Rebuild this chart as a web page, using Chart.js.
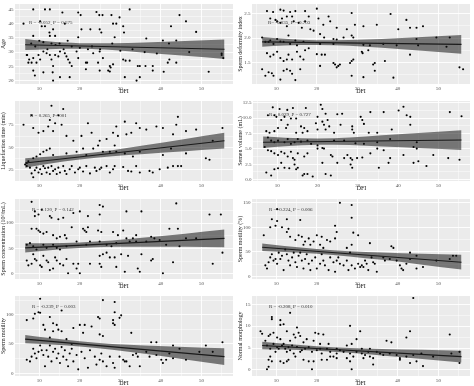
<!DOCTYPE html>
<html><head><meta charset="utf-8">
<script src="https://cdn.jsdelivr.net/npm/chart.js@4"></script>
<style>
html,body{margin:0;padding:0;background:#fff;width:474px;height:386px;overflow:hidden}
canvas{position:absolute;display:block}
</style></head><body>
<canvas id="c0" width="237" height="96" style="left:0;top:0"></canvas>
<canvas id="c1" width="237" height="96" style="left:237px;top:0"></canvas>
<canvas id="c2" width="237" height="96" style="left:0;top:97px"></canvas>
<canvas id="c3" width="237" height="96" style="left:237px;top:97px"></canvas>
<canvas id="c4" width="237" height="96" style="left:0;top:195px"></canvas>
<canvas id="c5" width="237" height="96" style="left:237px;top:195px"></canvas>
<canvas id="c6" width="237" height="96" style="left:0;top:292px"></canvas>
<canvas id="c7" width="237" height="96" style="left:237px;top:292px"></canvas>
<script>
// ---------- shared x axis ----------
const xMajor = [10,20,30,40,50];
const xMinor = [5,15,25,35,45,55];
const lineX = [6.5,55.7];
const bandX = [6.5,12,20,28,36,46,55.7];

// ---------- Panel 1: Age ----------
const ageTicks = [20,25,30,35,40,45];
const ageLine = [32.6,31.0];
const ageUpper = [34.6,33.8,33.15,33.1,33.4,33.9,34.4];
const ageLower = [30.7,31.0,31.15,30.7,29.8,28.7,27.6];
const agePoints = [[8.5,45],[11.4,45],[12.6,45],[15.7,43.9],[19.6,43.9],[20.2,43],[24.1,44.1],[24.8,43],[25.6,43],[27.8,43],[29.8,42.2],[32.3,45],[44.6,43],
[6.1,40],[10.2,40.8],[10.6,39.1],[11.4,39.1],[16.3,40],[20.4,38],[22.6,38],[24.9,38],[28.2,40],[29,40],[30.7,39.1],[42.5,39.1],[46.2,40.8],[48.7,37.1],
[8.5,35.7],[12.5,36.9],[12.6,35.7],[13.4,38],[13.9,35.7],[19.6,35.2],[25.3,36.9],[28.6,35.2],[30.9,36.9],[36.4,34.8],[40.5,34.1],[43.8,34.1],
[8,33],[9,32],[10,34],[11,33.5],[12,31],[13,33],[14,32.5],[15,33],[16,31],[17,34],[18,32],[20,31.5],[22,31],[23,32],[25,31],[28,33],[30,30.5],[33,31],[36,30],[39,29.5],[42,33],[47,30],[55,29.5],[7,29],
[6.9,29],[7.3,26.3],[7.5,27.4],[8.1,26.3],[8.5,27.9],[9.3,26.3],[9.8,29],[10.2,27.4],[11,30.2],[11.8,29.6],[12.6,29],[13,27.4],[13.4,25.1],[13.9,29],[14.7,28.5],[15.1,30.2],[16.3,29.6],[16.7,28.5],[17.1,27.4],[17.5,26.3],[18,25.1],[19.2,30.2],[19.6,27.9],[21.5,26.3],[21.8,26.3],[23.3,29.6],[24.5,26.3],[24.9,30.2],[25.7,27.9],[27.4,25.1],[27.6,24.6],[28.2,25.7],[30.7,27.4],[31.3,27],[32.3,27],[34.3,25.1],[34.8,25.1],[36.2,25.1],[38,25.1],[41.7,26.3],[42.1,27.4],[43.8,26.3],
[8.5,23.5],[8.9,21.8],[11,22.9],[13.3,22.9],[13.4,20],[15.1,21.2],[17.5,21.2],[21.5,24],[24.9,23.5],[27,23.5],[27.4,23.2],[31.1,21.2],[34,20],[34.8,21.2],[38,23.5],[40.7,23.1],[51.8,23.1],[55.4,27.9],[55,29]];

// ---------- Panel 2: Sperm deformity index ----------
const sdiTicks = [1.5,2.0,2.5];
const sdiLine = [1.92,1.87];
const sdiUpper = [2.02,1.985,1.955,1.96,1.98,2.02,2.06];
const sdiLower = [1.82,1.845,1.855,1.84,1.80,1.74,1.68];
const sdiPoints = [[7.7,2.55],[9.2,2.53],[11,2.58],[11.8,2.56],[12.6,2.44],[13.4,2.53],[14.7,2.55],[17.1,2.55],[18,2.44],[20,2.6],[20.4,2.40],[21.6,2.27],[22.9,2.44],[23.3,2.34],[24.9,2.21],[27.4,2.18],[28.6,2.51],[29.4,2.27],[31.5,2.24],[34.8,2.27],[38.2,2.49],[40.1,2.18],[42.1,2.37],[43,2.21],[44.6,2.21],[46.2,2.24],
[8.5,2.40],[9.8,2.37],[10.2,2.34],[11,2.31],[11.4,2.40],[12.6,2.24],[13,2.05],[13.9,2.44],[14.3,2.34],[15.5,2.31],[16.3,2.21],[17.1,2.34],[18.4,2.18],[19.2,2.15],[20.8,2.08],[21.8,2.01],[24.1,1.98],[26.6,2.01],[28.6,2.05],[29,2.01],
[6.5,2.01],[7.3,1.92],[8.1,1.92],[8.5,1.95],[9.3,1.88],[10.2,1.98],[11,1.93],[11.8,1.92],[13.4,1.88],[14.7,1.95],[15.1,1.85],[16.7,1.92],[18,1.79],[20.8,1.88],[24.1,1.88],[24.9,1.97],[31.5,1.86],[33.1,1.85],[36.4,1.88],[39.7,1.85],[44.6,1.98],[45,1.85],[49.5,2.01],[52.8,2.01],[52,1.82],
[7.7,1.69],[8.5,1.62],[9.3,1.66],[10.2,1.72],[11,1.59],[11.8,1.53],[12.6,1.56],[13,1.66],[13.9,1.56],[15.1,1.72],[15.9,1.62],[16.7,1.56],[17.1,1.75],[20,1.67],[21.2,1.66],[22,1.66],[24.1,1.49],[24.5,1.46],[24.9,1.40],[25.3,1.43],[25.7,1.46],[28.2,1.49],[28.6,1.53],[29,1.56],[31.1,1.72],[31.3,1.69],[32.7,1.75],[33.9,1.46],[34.3,1.49],[34.3,1.33],[36.8,1.53],[43,1.66],
[6.5,1.36],[7.3,1.23],[8.1,1.30],[8.9,1.28],[9.3,1.23],[11,1.15],[11.8,1.33],[12.6,1.36],[13.4,1.33],[13.9,1.27],[14.7,1.14],[15.9,1.36],[20.8,1.43],[28.6,1.23],[31.5,1.20],[38.9,1.19],[55.2,1.40],[56.1,1.36]];

// ---------- Panel 3: Liquefaction time ----------
const liqTicks = [25,50,75];
const liqLine = [32.7,57.4];
const liqUpper = [38.0,39.5,42.6,46.9,52.3,59.3,66.2];
const liqLower = [27.4,31.5,36.4,40.1,42.7,45.7,48.6];
const liqPoints = [[13,96.1],[15.9,92.6],[8.1,85.6],[14.7,85.6],[12.6,80.3],[13.9,76.8],[15.5,75],[6.1,75],[8.5,71.5],[9.8,66.2],[11,68],[12.2,73.2],[13.4,68],[16.7,62.7],[18.4,57.4],[20.4,62.7],[22,76.8],[22.9,66.2],[24.9,57.4],[26.6,59.2],[28.2,66.2],[29,73.2],[31.1,78.5],[31.5,64.4],[32.7,66.2],[33.9,76.8],[34.8,71.5],[36.4,69.7],[38.9,73.2],[40.5,71.5],[43,64.4],[43.8,75],[44.2,83.8],[46.2,68],[48.7,69.7],[52.8,57.4],[55.2,71.5],[29.4,62.7],[28.6,52.1],
[6.9,32.7],[7.3,34.5],[8.5,38],[9.3,39.8],[10.2,42.3],[11,45.1],[11.8,46.8],[12.6,48.6],[13.4,41.5],[16.7,43.3],[19.2,45.1],[20.8,48.6],[21.6,41.5],[23.3,48.6],[24.5,52.1],[25.7,45.1],[27.4,45.1],[29,45.1],[31.1,43.3],[33.1,39.8],[34.8,45.1],[40.5,41.5],[42.5,48.6],[46.2,43.3],[51.1,38],[52,36.3],
[6.5,31],[6.9,29.2],[7.7,27.5],[8.1,21.1],[8.5,16.9],[8.9,24.6],[9.3,27.5],[9.8,22.2],[10.2,25.7],[10.6,20.4],[11,29.2],[11.4,26.8],[11.8,22.2],[12.2,27.5],[12.6,20.4],[13,29.2],[13.4,23.9],[13.9,25.7],[14.3,20.4],[14.7,27.5],[15.1,22.2],[15.9,29.2],[16.3,23.9],[16.7,20.4],[17.5,25.7],[18,29.2],[18.8,22.2],[19.6,25.7],[20,27.5],[20.8,23.2],[21.6,29.2],[22.5,21.1],[23.7,27.5],[24.1,23.9],[24.9,25.7],[25.3,27.5],[26.6,29.2],[27.4,22.2],[28.2,25.7],[28.6,29.2],[30.7,28.2],[31.9,23.9],[32.7,23.2],[33.9,29.2],[34.8,22.2],[37.2,23.9],[38,22.2],[39.7,25.7],[41.7,27.5],[43,29.2],[44.2,29.2],[45,29.2]];

// ---------- Panel 4: Semen volume ----------
const volTicks = [0,2.5,5,7.5,10,12.5];
const volLine = [6.07,6.43];
const volUpper = [7.0,6.81,6.67,6.83,7.19,7.61,8.03];
const volLower = [5.14,5.41,5.67,5.63,5.39,5.11,4.83];
const volPoints = [[8.9,11.73],[10.6,11.47],[12.5,11.32],[13.9,11.63],[17.1,11.63],[20.8,12.14],[21.2,11.47],[22,10.7],[24.9,10.6],[26.1,10.7],[30.7,10.19],[33.1,10.96],[40.1,11.21],[41.3,11.83],[42.1,10.44],[43,10.19],[52.8,10.96],[55.7,10.29],
[7.7,10.44],[9.3,10.44],[9.8,10.19],[11.8,10.19],[13.4,9.93],[11,9.67],[12.6,8.9],[14.7,9.93],[15.9,8.64],[16.7,8.38],[20,10.19],[19.6,9.16],[21.2,9.41],[21.6,8.9],[22.5,9.67],[22.9,8.64],[25.7,8.9],[28.6,8.64],[31.1,9.67],[31.5,9.05],[36.4,10.96],[38.4,8.13],[43,8.9],[32.7,7.61],[34.8,7.61],
[7.3,7.87],[8.1,7.61],[9.3,7.87],[10.2,8.38],[12.2,8.38],[14.7,7.61],[16.3,7.61],[17.5,7.87],[20,8.13],[22,8.13],[24.1,7.61],[28.6,8.13],[29,7.61],
[7.7,6.84],[8.5,6.33],[9.3,6.07],[10.2,6.33],[11.8,6.07],[12.6,6.58],[13.4,5.81],[14.3,6.07],[15.1,6.58],[15.9,6.17],[17.5,6.33],[18.4,5.81],[20,5.56],[21.6,5.04],[24.1,6.33],[26.6,6.33],[29.4,5.92],[31.5,5.81],[34.8,6.07],[38,6.58],[43.8,5.3],[44.6,6.07],
[6.9,5.3],[7.7,4.78],[8.5,4.63],[9.3,4.27],[10.2,4.01],[11,4.53],[11.8,4.27],[12.6,3.76],[13.4,4.53],[13.9,3.5],[14.3,3.24],[15.1,4.27],[16.7,3.76],[17.5,4.27],[20,5.04],[21.2,5.14],[23.3,4.01],[23.7,3.76],[26.6,3.5],[27.4,4.01],[28.2,3.5],[28.6,3.24],[29.8,3.5],[31.1,3.6],[33.1,4.27],[34.8,5.04],[36.4,4.78],[38,3.5],[41.3,4.01],[44.6,5.04],[48.7,4.01],[52.4,3.5],[55.2,3.24],
[7.3,1.18],[8.5,0.67],[9.3,1.7],[10.2,1.85],[11,2.73],[11.8,1.95],[13,1.85],[14.3,2.47],[14.7,1.7],[15.1,1.95],[16.3,0.67],[16.7,0.93],[17.5,0.93],[18.8,0.51],[21.2,2.73],[22,0.93],[23.3,0.67],[24.9,2.73],[28.2,2.47],[28.6,1.95],[35.2,1.95],[37.6,2.73],[43.8,2.73],[45,2.98],[47,2.21]];

// ---------- Panel 5: Sperm concentration ----------
const conTicks = [0,50,100];
const conLine = [51.3,70.0];
const conUpper = [60.6,60.6,61.9,65.7,71.5,79.3,87.5];
const conLower = [42.0,46.2,50.9,53.3,53.5,53.3,52.5];
const conPoints = [[8.1,141.9],[43.8,138.8],[24.9,135.6],[25.7,132.5],[8.9,123.1],[10.6,126.3],[8.9,113.8],[9.8,116.9],[12.6,113.8],[13,110.6],[14.7,107.5],[15.9,110.6],[18.4,120],[20,123.1],[22,113.8],[24.9,116.9],[31.5,123.1],[35.2,123.1],[52,116.9],[54.8,116.9],
[8.1,88.8],[9.3,88.8],[9.8,85.6],[10.2,82.5],[11,79.4],[11.8,82.5],[13.4,76.3],[14.3,70],[15.1,73.1],[16.3,76.3],[16.7,70],[18,91.9],[20.8,88.8],[21.2,85.6],[21.6,82.5],[22,91.9],[24.5,85.6],[25.3,82.5],[28.2,82.5],[30.7,85.6],[29.4,76.3],[31.5,70],[33.1,70],[33.9,76.3],[38.4,70],[39.7,66.9],[42.1,88.8],[44.2,88.8],[46.2,70],[48.7,70],
[6.9,57.5],[7.7,60.6],[8.5,54.4],[9.3,48.1],[11,57.5],[11.8,51.3],[13.4,57.5],[14.3,51.3],[15.1,48.1],[16.7,54.4],[19.2,63.8],[21.6,57.5],[22.5,63.8],[24.9,63.8],[26.6,57.5],[27.8,54.4],[29,60.6],[32.3,63.8],[33.9,63.8],[36.4,63.8],[37.6,73.1],[41.3,57.5],[44.6,54.4],
[6.9,26.3],[7.3,16.9],[8.1,20],[8.5,38.8],[8.9,29.4],[9.3,26.3],[10.2,16.9],[10.6,13.8],[11,35.6],[11.8,26.3],[12.2,23.1],[12.6,7.5],[13.4,10.6],[13.9,32.5],[14.3,26.3],[15.1,20],[15.9,16.9],[16.7,29.4],[17.1,1.3],[18.4,20],[19.2,10.6],[19.6,20],[20,1.3],[22.5,20],[24.9,20],[25.3,13.8],[24.9,35.6],[25.7,38.8],[26.6,41.9],[27.4,32.5],[28.6,32.5],[29,13.8],[30.2,38.8],[31.1,4.4],[31.9,35.6],[34.3,10.6],[34.8,4.4],[35.2,38.8],[37.6,26.3],[38,29.4],[40.5,1.3],[43,23.1],[52.8,20],[55.2,41.9]];

// ---------- Panel 6: Sperm motility (%) ----------
const motPTicks = [0,50,100,150];
const motPLine = [59.4,29.0];
const motPUpper = [67.1,62.0,55.8,51.5,48.7,46.0,43.9];
const motPLower = [51.7,50.0,46.2,40.7,33.7,24.0,14.1];
const motPPoints = [[25.7,150],[28.6,145.5],[10.2,137.1],[8.9,116.4],[10.2,113.1],[12.6,116.4],[15.9,115.1],[24.5,103.4],[28.6,119.6],[8.5,100.2],[9.8,103.4],[11.4,100.2],[12.6,90.5],[24.9,90.5],[29,89.2],[30.2,84],[20,84],[21.2,80.8],[22.5,74.3],[18,77.5],[13,96.9],[13.4,80.8],[15.5,84],[16.3,80.8],[17.1,71.1],[14.7,74.3],[16.7,64.6],[18.4,64.6],[19.2,71.1],[20.8,64.6],[21.6,58.1],[23.3,71.1],[24.5,77.5],[27.4,58.1],[28.2,48.4],[28.6,64.6],[33.1,67.8],[38.4,61.4],[38.9,58.1],[43,48.4],[44.6,42],[53.6,42],[54.4,42],
[6.9,84],[7.3,22.5],[7.7,16.1],[8.1,29],[8.5,38.7],[8.9,45.2],[9.3,32.2],[9.8,35.5],[10.2,25.8],[10.6,48.4],[11,35.5],[11.4,42],[11.8,12.8],[12.2,54.9],[12.6,45.2],[13,32.2],[13.4,22.5],[13.9,38.7],[14.3,48.4],[14.7,29],[15.1,19.3],[15.5,42],[15.9,48.4],[16.3,32.2],[16.7,16.1],[17.1,35.5],[17.5,45.2],[18,25.8],[18.4,12.8],[18.8,32.2],[19.6,38.7],[20,16.1],[20.8,25.8],[21.2,45.2],[21.6,32.2],[22,22.5],[22.9,12.8],[23.3,38.7],[24.1,29],[24.5,9.6],[24.9,32.2],[25.3,38.7],[25.7,25.8],[26.6,22.5],[27.4,32.2],[27.8,12.8],[28.6,22.5],[29.4,16.1],[30.2,25.8],[30.7,19.3],[31.1,22.5],[31.5,19.3],[31.9,32.2],[32.3,25.8],[32.7,12.8],[33.5,38.7],[33.9,29],[34.3,25.8],[34.8,9.6],[36.4,38.7],[36.8,32.2],[38,35.5],[39.7,32.2],[40.5,22.5],[40.9,16.1],[41.3,12.8],[42.1,25.8],[43,35.5],[44.6,16.1],[46.2,19.3],[49.5,32.2],[52.8,35.5]];

// ---------- Panel 7: Sperm motility ----------
const motTicks = [0,50,100];
const motLine = [58.2,28.3];
const motUpper = [65.2,60.5,54.5,50.1,47.5,44.8,42.7];
const motLower = [51.2,49.3,45.5,40.1,33.1,23.6,13.9];
const motPoints = [[10.2,127.2],[28.6,121.7],[25.7,125],[6.9,90.8],[8.5,93.5],[8.9,101.6],[9.8,104.3],[10.2,103.3],[15.5,107.1],[28.6,104.3],[29.8,94.6],[30.2,98.9],[24.5,96.2],[24.9,93.5],[28.2,90.8],[28.6,82.6],[28.2,85.3],[20,82.6],[21.2,82.6],[22.9,79.9],[12.6,96.2],[13.4,85.3],[14.3,82.6],[14.7,74.5],[15.5,71.8],[11,82.6],[11.4,74.5],[18.4,77.2],[20.8,69],[24.9,66.3],[25.7,63.6],[32.7,69],[37.6,52.8],[38.9,52.8],[43,47.3],[44.6,41.9],[51.1,47.3],[52.8,36.5],[55.2,52.8],[12.6,60.9],[13.4,71.8],[16.7,58.2],[18,50],
[6.9,22.9],[7.7,20.2],[8.1,28.3],[8.5,41.9],[8.9,33.8],[9.3,25.6],[9.8,36.5],[10.2,47.3],[10.6,39.2],[11,31],[11.4,12],[11.8,39.2],[12.2,28.3],[12.6,47.3],[13,20.2],[13.4,36.5],[13.9,41.9],[14.3,25.6],[14.7,33.8],[15.1,17.5],[15.5,44.6],[15.9,28.3],[16.3,39.2],[16.7,22.9],[17.1,12],[17.5,33.8],[18,41.9],[18.4,20.2],[19.2,31],[19.6,6.6],[20.4,36.5],[21.2,25.6],[22,9.3],[22.5,39.2],[23.7,28.3],[24.1,14.7],[24.9,22.9],[25.3,33.8],[25.7,20.2],[26.6,12],[27.4,28.3],[28.2,17.5],[28.6,9.3],[29.8,28.3],[30.7,22.9],[31.1,20.2],[31.5,20.2],[32.3,12],[33.1,31],[33.9,33.8],[34.3,28.3],[34.8,12],[36.4,36.5],[37.2,28.3],[38.9,31],[40.1,22.9],[40.5,17.5],[41.3,22.9],[43,25.6],[46.2,22.9],[49.5,36.5],[42.1,33.8]];

// ---------- Panel 8: Normal morphology ----------
const morTicks = [0,5,10,15];
const morLine = [5.58,3.04];
const morUpper = [6.43,5.95,5.38,5.01,4.80,4.58,4.39];
const morLower = [4.73,4.65,4.38,3.91,3.30,2.48,1.69];
const morPoints = [[43.8,16.45],[13.4,13.04],[8.9,12.1],[8.9,11.6],[11,11.38],[11,10.29],[11.8,10.43],[15.1,9.71],[28.2,10.07],[30.7,8.84],[43,8.84],[52.8,8.11],[6.1,8.84],[6.5,8.26],[8.1,7.75],[8.5,8.11],[9.3,8.48],[10.2,7.39],[11,7.03],[11.8,5.94],[12.6,8.84],[13.4,6.66],[14.3,8.11],[14.7,7.39],[15.5,8.48],[15.9,7.75],[16.7,6.3],[17.5,7.03],[19.2,6.66],[19.6,8.48],[20.4,8.26],[21.6,8.11],[20.8,5.94],[22.9,5.94],[24.9,4.85],[27.4,5.58],[28.6,5.94],[29.8,7.03],[31.1,4.85],[34.8,4.13],[37.2,6.66],[38.4,6.3],[42.1,7.39],
[7.3,6.66],[7.7,5.58],[8.5,4.85],[9.3,5.94],[9.8,4.13],[10.2,5.21],[10.6,4.85],[11.4,5.58],[12.2,4.85],[12.6,4.13],[13,5.21],[13.4,4.49],[13.9,5.58],[14.3,3.76],[15.1,5.21],[15.9,4.13],[16.3,4.49],[17.1,4.85],[18,5.21],[18.8,4.13],[20,4.49],[20.8,4.85],[21.2,3.76],[22.5,4.85],[23.3,4.13],[24.1,3.04],[24.9,3.76],[25.7,4.49],[26.6,4.13],[27.4,2.68],[28.2,3.76],[29,3.04],[29.8,4.13],[31.1,3.76],[31.9,3.4],[32.7,4.13],[33.1,4.85],[33.9,2.68],[35.6,3.76],[36.4,3.4],[38,3.76],[39.7,3.4],[40.5,2.68],[42.1,3.04],[43.8,3.4],[45.8,3.76],[48.7,3.04],[53.2,3.76],[55.2,4.13],
[8.1,2.31],[8.5,3.04],[8.9,1.95],[11,1.95],[11.8,1.59],[12.6,1.95],[13,2.31],[14.7,3.04],[16.7,2.31],[18,1.95],[18.8,0.14],[19.2,1.95],[21.2,2.31],[22.5,2.31],[23.3,3.04],[24.9,2.68],[28.2,1.95],[28.6,0.14],[31.5,2.68],[33.1,3.04],[33.9,1.23],[40.5,2.31],[43,1.59],[44.6,1.95],[46.2,0.86],[55.2,1.59],[7.7,0.14],[8.1,0.72]];

// ---------- assemble panels ----------
const panels = [
 {id:'c0', title:'Age', note:'R = -0.052, P = 0.575', pts:agePoints, line:ageLine, up:ageUpper, lo:ageLower, ticks:ageTicks, dec:0, min:18.8, max:46.9, yw:15, ndx:14, ndy:19},
 {id:'c1', title:'Sperm deformity index', note:'R= -0.035, P = 0.703', pts:sdiPoints, line:sdiLine, up:sdiUpper, lo:sdiLower, ticks:sdiTicks, dec:1, min:1.06, max:2.695, yw:15, ndx:16, ndy:19},
 {id:'c2', title:'Liquefaction time (min)', note:'R = 0.265, P<.001', pts:liqPoints, line:liqLine, up:liqUpper, lo:liqLower, ticks:liqTicks, dec:0, min:12.7, max:101.4, yw:15, ndx:15, ndy:15},
 {id:'c3', title:'Semen volume (mL)', note:'R = 0.029, P = 0.727', pts:volPoints, line:volLine, up:volUpper, lo:volLower, ticks:volTicks, dec:1, min:-0.21, max:12.76, yw:16, ndx:16, ndy:14},
 {id:'c4', title:'Sperm concentration (10⁶/mL)', note:'R = 0.120, P = 0.142', pts:conPoints, line:conLine, up:conUpper, lo:conLower, ticks:conTicks, dec:0, min:-10, max:147.5, yw:15, ndx:17, ndy:11},
 {id:'c5', title:'Sperm motility (%)', note:'R = -0.224, P = 0.006', pts:motPPoints, line:motPLine, up:motPUpper, lo:motPLower, ticks:motPTicks, dec:0, min:-5.3, max:157.8, yw:15, ndx:17, ndy:11},
 {id:'c6', title:'Sperm motility', note:'R = -0.239, P = 0.003', pts:motPoints, line:motLine, up:motUpper, lo:motLower, ticks:motTicks, dec:0, min:-4.8, max:132, yw:15, ndx:17, ndy:11},
 {id:'c7', title:'Normal morphology', note:'R = -0.208, P = 0.010', pts:morPoints, line:morLine, up:morUpper, lo:morLower, ticks:morTicks, dec:0, min:-1.4, max:16.9, yw:15, ndx:17, ndy:11}
];

const FONT = '"Liberation Serif", "DejaVu Serif", serif';
const bgPlugin = {id:'panelBg', beforeDraw(c){const a=c.chartArea,x=c.ctx;x.save();x.fillStyle='#ebebeb';x.fillRect(a.left,a.top,a.right-a.left,a.bottom-a.top);x.restore();}};
const notePlugin = {id:'note', afterDatasetsDraw(c,args,o){const a=c.chartArea,x=c.ctx;x.save();x.font='5px '+FONT;x.fillStyle='#333';x.textBaseline='middle';x.textAlign='left';x.fillText(o.text,a.left+o.dx,a.top+o.dy);x.restore();}};

function minorOf(major, min, max){
  const step = major[1]-major[0]; const out=[];
  for(let i=-1;i<major.length;i++){const v=(i<0?major[0]-step/2:major[i]+step/2); if(v>min && v<max) out.push(+v.toFixed(4));}
  return out;
}

panels.forEach(p=>{
  const yMinor = minorOf(p.ticks, p.min, p.max);
  const yAll = p.ticks.concat(yMinor).sort((a,b)=>a-b);
  const xAll = xMajor.concat(xMinor).sort((a,b)=>a-b);
  new Chart(document.getElementById(p.id), {
    type:'scatter',
    data:{datasets:[
      {type:'scatter', data:p.pts.map(d=>({x:d[0],y:d[1]})), pointRadius:1.05, pointBackgroundColor:'#000', pointBorderWidth:0, order:3},
      {type:'line', data:bandX.map((x,i)=>({x, y:p.up[i]})), borderWidth:0, pointRadius:0, fill:'+1', backgroundColor:'rgba(20,20,20,0.55)', cubicInterpolationMode:'monotone', order:2},
      {type:'line', data:bandX.map((x,i)=>({x, y:p.lo[i]})), borderWidth:0, pointRadius:0, fill:false, cubicInterpolationMode:'monotone', order:2},
      {type:'line', data:lineX.map((x,i)=>({x, y:p.line[i]})), borderColor:'#1a1a1a', borderWidth:1.1, pointRadius:0, fill:false, order:1}
    ]},
    options:{
      responsive:false, animation:false, devicePixelRatio:1,
      layout:{padding:{top:0,right:4,bottom:0,left:0}},
      plugins:{legend:{display:false}, tooltip:{enabled:false}, note:{text:p.note, dx:p.ndx, dy:p.ndy}},
      scales:{
        x:{type:'linear', min:4.0, max:57.8,
          afterBuildTicks:s=>{s.ticks = xAll.map(v=>({value:v}));},
          afterFit:s=>{s.height=12; s.paddingLeft=0; s.paddingRight=0;},
          grid:{color:'#ffffff', lineWidth:ctx=>(ctx.tick && xMajor.includes(ctx.tick.value))?0.9:0.45, drawTicks:false},
          border:{display:false},
          ticks:{autoSkip:false, maxRotation:0, padding:1.5, color:'#4d4d4d', font:{family:FONT,size:5}, callback:v=>xMajor.includes(v)?String(v):''},
          title:{display:true, text:'DFI', color:'#222', font:{family:FONT,size:6}, padding:{top:0,bottom:1}}
        },
        y:{type:'linear', min:p.min, max:p.max,
          afterBuildTicks:s=>{s.ticks = yAll.map(v=>({value:v}));},
          afterFit:s=>{s.width=p.yw; s.paddingTop=0; s.paddingBottom=0;},
          grid:{color:'#ffffff', lineWidth:ctx=>(ctx.tick && p.ticks.includes(ctx.tick.value))?0.9:0.45, drawTicks:false},
          border:{display:false},
          ticks:{autoSkip:false, padding:1.5, color:'#4d4d4d', font:{family:FONT,size:5}, callback:v=>p.ticks.includes(v)?v.toFixed(p.dec):''},
          title:{display:true, text:p.title, color:'#222', font:{family:FONT,size:6}, padding:{top:0,bottom:0}}
        }
      }
    },
    plugins:[bgPlugin, notePlugin]
  });
});
</script>
</body></html>
